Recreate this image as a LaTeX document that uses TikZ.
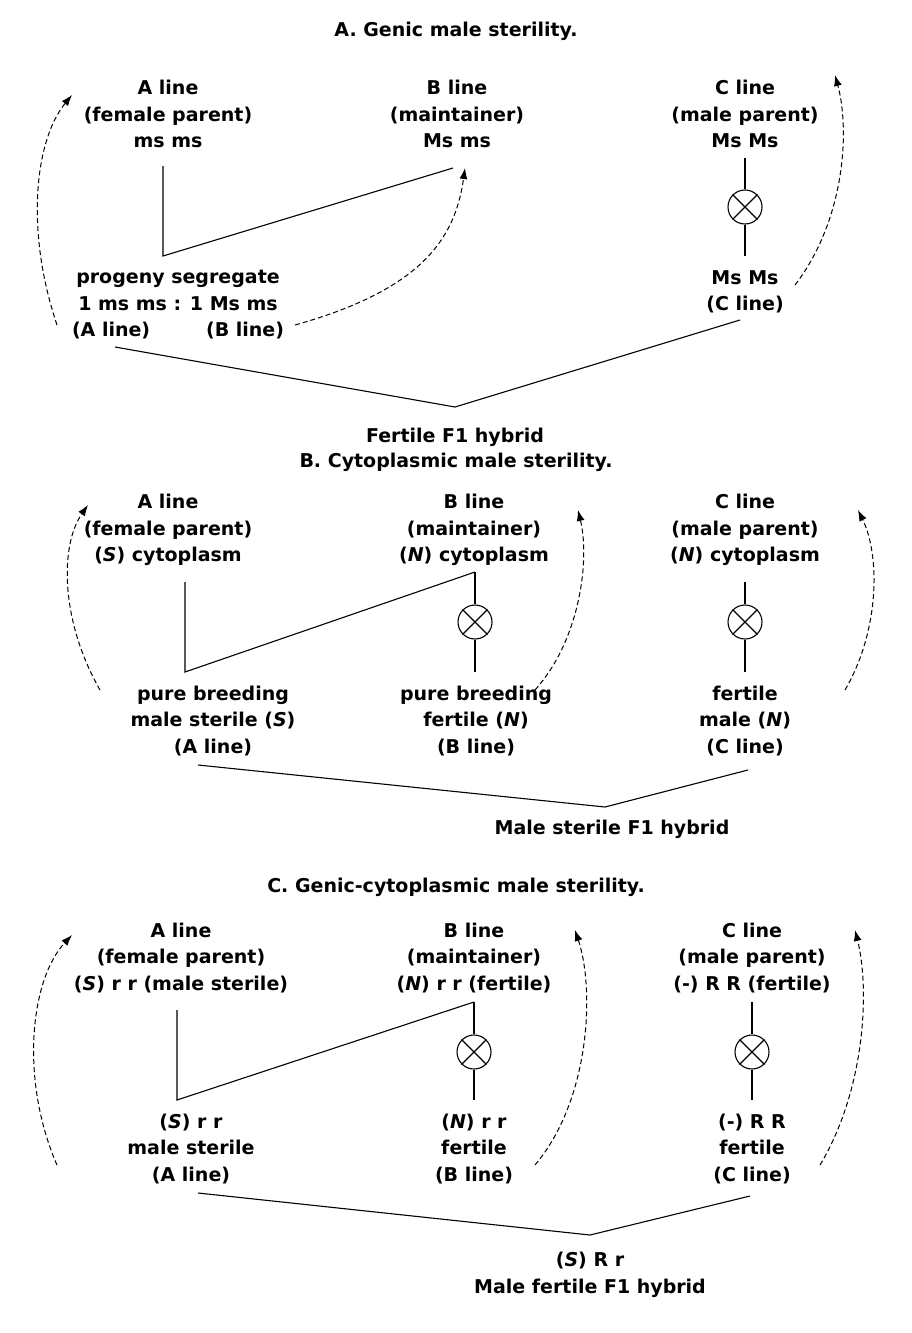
\documentclass[tikz,border=0pt]{standalone}
\usepackage{fontspec}
\setmainfont{DejaVu Sans}
\usetikzlibrary{arrows.meta}
\begin{document}
\begin{tikzpicture}[x=1pt,y=-1pt,
 txt/.style={font=\fontsize{19}{26.5}\selectfont\bfseries,align=center,inner sep=0pt},
 ln/.style={line width=1.1pt},
 da/.style={line width=1pt,dash pattern=on 5pt off 3pt,-{Latex[length=11pt,width=8pt]}},
 ox/.style={draw,circle,minimum size=34pt,line width=1.1pt,inner sep=0pt}]
\useasboundingbox (0,0) rectangle (912,1333);
% ---------- A
\node[txt] (tA) at (456,31) {A. Genic male sterility.};
\node[txt] (aA) at (168,114) {A line\\(female parent)\\ms ms};
\node[txt] (aB) at (457,114) {B line\\(maintainer)\\Ms ms};
\node[txt] (aC) at (745,114) {C line\\(male parent)\\Ms Ms};
\node[txt] (aP) at (178,305) {progeny segregate\\1 ms ms : 1 Ms ms\\\hbox to 212pt{(A line)\hfill(B line)}};
\node[ox] (aX) at (745,207) {};
\draw[ln] (aX.45)--(aX.225) (aX.135)--(aX.-45);
\node[txt] (aCC) at (745,292) {Ms Ms\\(C line)};
\node[txt] (aF) at (455,437) {Fertile F1 hybrid};
\coordinate (a1) at (163,166); \coordinate (a2) at (163,256); \coordinate (a3) at (453,168);
\draw[ln] (a1)--(a2)--(a3);
\draw[ln] (aX.north)--(745,158) (aX.south)--(745,256);
\coordinate (a4) at (115,347); \coordinate (a5) at (455,407); \coordinate (a6) at (740,320);
\draw[ln] (a4)--(a5)--(a6);
\draw[da] (57,325) .. controls (25,230) and (35,140) .. (72,95);
\draw[da] (295,325) .. controls (420,290) and (455,240) .. (465,168);
\draw[da] (795,285) .. controls (845,220) and (850,130) .. (835,75);
% ---------- B
\node[txt] (tB) at (456,462) {B. Cytoplasmic male sterility.};
\node[txt] (bA) at (168,530) {A line\\(female parent)\\(\textit{S}) cytoplasm};
\node[txt] (bB) at (474,530) {B line\\(maintainer)\\(\textit{N}) cytoplasm};
\node[txt] (bC) at (745,530) {C line\\(male parent)\\(\textit{N}) cytoplasm};
\node[ox] (bX) at (475,622) {};
\draw[ln] (bX.45)--(bX.225) (bX.135)--(bX.-45);
\node[ox] (cX) at (745,622) {};
\draw[ln] (cX.45)--(cX.225) (cX.135)--(cX.-45);
\node[txt] (bPA) at (213,721) {pure breeding\\male sterile (\textit{S})\\(A line)};
\node[txt] (bPB) at (476,721) {pure breeding\\fertile (\textit{N})\\(B line)};
\node[txt] (bPC) at (745,721) {fertile\\male (\textit{N})\\(C line)};
\node[txt] (bF) at (612,829) {Male sterile F1 hybrid};
\coordinate (b1) at (185,582); \coordinate (b2) at (185,672); \coordinate (b3) at (475,572);
\draw[ln] (b1)--(b2)--(b3);
\draw[ln] (bX.north)--(b3) (bX.south)--(475,672);
\draw[ln] (cX.north)--(745,582) (cX.south)--(745,672);
\coordinate (b4) at (198,765); \coordinate (b5) at (605,807); \coordinate (b6) at (748,770);
\draw[ln] (b4)--(b5)--(b6);
\draw[da] (100,690) .. controls (60,620) and (60,545) .. (88,505);
\draw[da] (535,690) .. controls (580,640) and (590,560) .. (578,510);
\draw[da] (845,690) .. controls (880,630) and (880,555) .. (858,510);
% ---------- C
\node[txt] (tC) at (456,887) {C. Genic-cytoplasmic male sterility.};
\node[txt] (cA) at (181,958) {A line\\(female parent)\\(\textit{S}) r r (male sterile)};
\node[txt] (cB) at (474,958) {B line\\(maintainer)\\(\textit{N}) r r (fertile)};
\node[txt] (cC) at (752,958) {C line\\(male parent)\\(-) R R (fertile)};
\node[ox] (dX) at (474,1052) {};
\draw[ln] (dX.45)--(dX.225) (dX.135)--(dX.-45);
\node[ox] (eX) at (752,1052) {};
\draw[ln] (eX.45)--(eX.225) (eX.135)--(eX.-45);
\node[txt] (cPA) at (191,1149) {(\textit{S}) r r\\male sterile\\(A line)};
\node[txt] (cPB) at (474,1149) {(\textit{N}) r r\\fertile\\(B line)};
\node[txt] (cPC) at (752,1149) {(-) R R\\fertile\\(C line)};
\node[txt] (cF) at (590,1275) {(\textit{S}) R r\\Male fertile F1 hybrid};
\coordinate (c1) at (177,1010); \coordinate (c2) at (177,1100); \coordinate (c3) at (474,1002);
\draw[ln] (c1)--(c2)--(c3);
\draw[ln] (dX.north)--(c3) (dX.south)--(474,1100);
\draw[ln] (eX.north)--(752,1002) (eX.south)--(752,1100);
\coordinate (c4) at (198,1193); \coordinate (c5) at (590,1235); \coordinate (c6) at (750,1196);
\draw[ln] (c4)--(c5)--(c6);
\draw[da] (57,1165) .. controls (20,1080) and (30,980) .. (72,935);
\draw[da] (535,1165) .. controls (590,1100) and (595,990) .. (575,930);
\draw[da] (820,1165) .. controls (865,1090) and (870,990) .. (855,930);
\end{tikzpicture}
\end{document}
